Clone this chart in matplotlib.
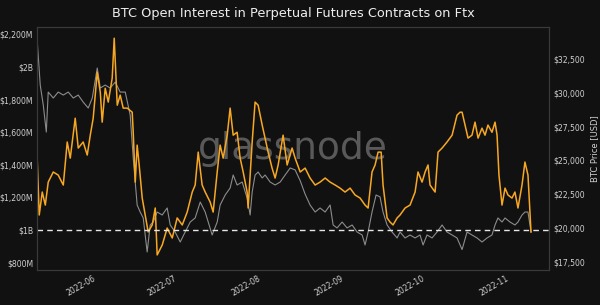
import pandas as pd
import matplotlib
matplotlib.use("Agg")
import matplotlib.pyplot as plt
import matplotlib.dates as mdates
from matplotlib.ticker import FuncFormatter

## DATA

# open interest, million USD
oi_time = [
    "2022-05-09 19:00", "2022-05-10 12:00", "2022-05-11 15:00", "2022-05-12 18:00", "2022-05-13 20:00",
    "2022-05-15 17:00", "2022-05-17 13:00", "2022-05-19 10:00", "2022-05-20 21:00", "2022-05-22 00:00",
    "2022-05-23 20:00", "2022-05-24 23:00", "2022-05-26 19:00", "2022-05-28 07:00", "2022-05-29 10:00",
    "2022-05-30 12:00", "2022-06-01 00:00", "2022-06-02 03:00", "2022-06-02 20:00", "2022-06-03 23:00",
    "2022-06-05 02:00", "2022-06-06 13:00", "2022-06-07 07:00", "2022-06-08 10:00", "2022-06-09 12:00",
    "2022-06-10 15:00", "2022-06-12 03:00", "2022-06-13 23:00", "2022-06-14 08:00", "2022-06-15 02:00",
    "2022-06-15 19:00", "2022-06-16 13:00", "2022-06-17 16:00", "2022-06-18 19:00", "2022-06-19 21:00",
    "2022-06-21 09:00", "2022-06-22 12:00", "2022-06-23 05:00", "2022-06-25 02:00", "2022-06-26 22:00",
    "2022-06-28 19:00", "2022-06-30 15:00", "2022-07-02 12:00", "2022-07-04 08:00", "2022-07-06 05:00",
    "2022-07-07 07:00", "2022-07-08 10:00", "2022-07-09 21:00", "2022-07-11 00:00", "2022-07-12 03:00",
    "2022-07-12 20:00", "2022-07-13 23:00", "2022-07-15 11:00", "2022-07-16 13:00", "2022-07-17 16:00",
    "2022-07-19 04:00", "2022-07-20 06:00", "2022-07-21 09:00", "2022-07-22 20:00", "2022-07-23 23:00",
    "2022-07-25 02:00", "2022-07-26 13:00", "2022-07-26 22:00", "2022-07-28 10:00", "2022-07-29 12:00",
    "2022-07-30 15:00", "2022-08-01 03:00", "2022-08-02 05:00", "2022-08-03 08:00", "2022-08-04 19:00",
    "2022-08-05 22:00", "2022-08-07 01:00", "2022-08-08 21:00", "2022-08-10 09:00", "2022-08-12 05:00",
    "2022-08-13 08:00", "2022-08-15 05:00", "2022-08-17 01:00", "2022-08-18 21:00", "2022-08-20 18:00",
    "2022-08-22 14:00", "2022-08-24 11:00", "2022-08-26 07:00", "2022-08-28 04:00", "2022-08-30 00:00",
    "2022-08-31 20:00", "2022-09-02 17:00", "2022-09-04 13:00", "2022-09-06 10:00", "2022-09-08 06:00",
    "2022-09-09 09:00", "2022-09-10 20:00", "2022-09-11 23:00", "2022-09-13 02:00", "2022-09-14 05:00",
    "2022-09-14 22:00", "2022-09-16 10:00", "2022-09-17 12:00", "2022-09-18 15:00", "2022-09-20 03:00",
    "2022-09-21 05:00", "2022-09-23 02:00", "2022-09-24 22:00", "2022-09-26 19:00", "2022-09-27 21:00",
    "2022-09-29 09:00", "2022-09-30 12:00", "2022-10-01 14:00", "2022-10-02 08:00", "2022-10-04 05:00",
    "2022-10-05 07:00", "2022-10-06 19:00", "2022-10-08 15:00", "2022-10-10 12:00", "2022-10-12 08:00",
    "2022-10-13 11:00", "2022-10-14 05:00", "2022-10-15 07:00", "2022-10-16 10:00", "2022-10-17 21:00",
    "2022-10-19 00:00", "2022-10-20 03:00", "2022-10-21 14:00", "2022-10-22 17:00", "2022-10-23 19:00",
    "2022-10-25 07:00", "2022-10-26 10:00", "2022-10-27 04:00", "2022-10-27 21:00", "2022-10-29 00:00",
    "2022-10-30 03:00", "2022-10-31 05:00", "2022-11-01 17:00", "2022-11-02 19:00", "2022-11-03 22:00",
    "2022-11-05 10:00", "2022-11-06 12:00", "2022-11-07 15:00", "2022-11-08 09:00", "2022-11-08 18:00",
]
oi_value = [
    1417, 1092, 1233, 1153, 1294, 1356, 1337, 1276, 1540, 1441,
    1686, 1503, 1540, 1460, 1582, 1686, 1968, 1846, 1662, 1870,
    1785, 1932, 2177, 1766, 1828, 1748, 1748, 1723, 1600, 1294,
    1521, 1399, 1196, 1092, 988, 1031, 1135, 847, 908, 1012,
    951, 1074, 1031, 1110, 1233, 1276, 1478, 1276, 1233, 1196,
    1172, 1110, 1356, 1521, 1441, 1582, 1748, 1582, 1600, 1441,
    1356, 1233, 1135, 1540, 1785, 1766, 1644, 1564, 1478, 1380,
    1319, 1399, 1582, 1399, 1503, 1441, 1356, 1380, 1319, 1276,
    1294, 1319, 1294, 1276, 1257, 1233, 1257, 1215, 1196, 1153,
    1135, 1356, 1399, 1478, 1478, 1276, 1074, 1049, 1031, 1074,
    1092, 1135, 1153, 1233, 1356, 1294, 1356, 1399, 1276, 1233,
    1478, 1503, 1540, 1582, 1705, 1723, 1723, 1644, 1564, 1582,
    1662, 1564, 1625, 1582, 1644, 1600, 1662, 1582, 1337, 1153,
    1257, 1215, 1196, 1233, 1135, 1276, 1417, 1337, 1110, 988,
]

# BTC price, USD
price_time = [
    "2022-05-09 19:00", "2022-05-10 21:00", "2022-05-12 00:00", "2022-05-13 03:00", "2022-05-13 20:00",
    "2022-05-15 17:00", "2022-05-17 13:00", "2022-05-19 10:00", "2022-05-21 06:00", "2022-05-23 03:00",
    "2022-05-24 23:00", "2022-05-26 19:00", "2022-05-28 16:00", "2022-05-30 04:00", "2022-06-01 00:00",
    "2022-06-02 03:00", "2022-06-03 23:00", "2022-06-05 19:00", "2022-06-07 16:00", "2022-06-09 12:00",
    "2022-06-11 09:00", "2022-06-13 05:00", "2022-06-14 08:00", "2022-06-15 19:00", "2022-06-16 22:00",
    "2022-06-18 01:00", "2022-06-19 12:00", "2022-06-20 15:00", "2022-06-21 18:00", "2022-06-23 05:00",
    "2022-06-25 02:00", "2022-06-26 22:00", "2022-06-28 01:00", "2022-06-29 21:00", "2022-07-01 18:00",
    "2022-07-03 14:00", "2022-07-05 11:00", "2022-07-07 07:00", "2022-07-09 04:00", "2022-07-11 00:00",
    "2022-07-12 03:00", "2022-07-13 14:00", "2022-07-15 11:00", "2022-07-16 13:00", "2022-07-18 10:00",
    "2022-07-20 06:00", "2022-07-21 09:00", "2022-07-22 20:00", "2022-07-24 17:00", "2022-07-26 13:00",
    "2022-07-27 16:00", "2022-07-28 10:00", "2022-07-29 12:00", "2022-07-30 15:00", "2022-08-01 03:00",
    "2022-08-02 05:00", "2022-08-04 02:00", "2022-08-05 22:00", "2022-08-07 19:00", "2022-08-09 15:00",
    "2022-08-11 12:00", "2022-08-13 08:00", "2022-08-15 05:00", "2022-08-17 01:00", "2022-08-18 21:00",
    "2022-08-20 18:00", "2022-08-22 14:00", "2022-08-24 11:00", "2022-08-26 07:00", "2022-08-27 10:00",
    "2022-08-28 21:00", "2022-08-30 18:00", "2022-09-01 14:00", "2022-09-03 11:00", "2022-09-05 07:00",
    "2022-09-07 04:00", "2022-09-08 06:00", "2022-09-09 09:00", "2022-09-10 20:00", "2022-09-12 08:00",
    "2022-09-13 19:00", "2022-09-14 22:00", "2022-09-16 10:00", "2022-09-18 06:00", "2022-09-20 03:00",
    "2022-09-21 05:00", "2022-09-23 02:00", "2022-09-24 22:00", "2022-09-26 19:00", "2022-09-28 15:00",
    "2022-09-29 18:00", "2022-10-01 05:00", "2022-10-03 02:00", "2022-10-04 22:00", "2022-10-06 19:00",
    "2022-10-08 15:00", "2022-10-10 12:00", "2022-10-12 08:00", "2022-10-14 05:00", "2022-10-16 01:00",
    "2022-10-17 21:00", "2022-10-19 18:00", "2022-10-21 14:00", "2022-10-23 11:00", "2022-10-25 07:00",
    "2022-10-26 10:00", "2022-10-27 12:00", "2022-10-29 00:00", "2022-10-30 03:00", "2022-10-31 23:00",
    "2022-11-02 19:00", "2022-11-03 22:00", "2022-11-05 10:00", "2022-11-06 12:00", "2022-11-07 15:00",
    "2022-11-08 18:00",
]
price_value = [
    33760, 30580, 29100, 27100, 30060, 29620, 30060, 29840, 30060, 29620,
    29840, 29320, 28880, 29620, 31840, 30360, 30580, 30360, 30800, 30060,
    30060, 28360, 25180, 21700, 21180, 20740, 18220, 20220, 20440, 21180,
    20960, 21480, 20220, 19700, 18960, 19700, 20440, 20740, 21920, 21180,
    20440, 19480, 20440, 21700, 22440, 22960, 23920, 23180, 23400, 22220,
    20960, 22660, 23920, 24140, 23700, 23920, 23400, 23180, 23400, 23920,
    24440, 24300, 23500, 22500, 21700, 21180, 21480, 21180, 21700, 20220,
    20000, 20440, 20000, 20220, 19700, 19480, 18740, 19700, 21180, 22440,
    22300, 21180, 20220, 19700, 19260, 19700, 19260, 19480, 19260, 19480,
    18740, 19480, 19260, 19700, 20220, 19700, 19480, 19260, 18400, 19700,
    19480, 19260, 18960, 19260, 19480, 20220, 20740, 20440, 20740, 20440,
    20220, 20440, 20960, 21180, 21180, 19700,
]

left_ticks = [800, 1000, 1200, 1400, 1600, 1800, 2000, 2200]
right_ticks = [17500, 20000, 22500, 25000, 27500, 30000, 32500]

## STYLE

bg = "#111111"
txt = "#d0d0d0"
orange = "#f7a823"
grey = "#8c8c8c"

oi_t = pd.to_datetime(oi_time)
pr_t = pd.to_datetime(price_time)

fig = plt.figure(figsize=(6, 3.05), dpi=100, facecolor=bg)
ax = fig.add_axes([0.062, 0.115, 0.853, 0.796])
ax2 = ax.twinx()
ax2.set_facecolor(bg)
ax.set_zorder(ax2.get_zorder() + 1)
ax.patch.set_visible(False)

ax2.plot(pr_t, price_value, color=grey, lw=0.8)
ax.plot(oi_t, oi_value, color=orange, lw=1.1)
ax.axhline(1000, color="#e6e6e6", lw=1.0, ls=(0, (4, 3)))

ax.set_ylim(755, 2245)
ax2.set_ylim(16893, 34867)
ax.set_xlim(pd.Timestamp("2022-05-09 18:00"), pd.Timestamp("2022-11-15 10:00"))

def left_fmt(v, pos):
    if v % 1000 == 0:
        return f"${v/1000:.0f}B"
    return f"${v:,.0f}M"

ax.set_yticks(left_ticks)
ax.yaxis.set_major_formatter(FuncFormatter(left_fmt))
ax2.set_yticks(right_ticks)
ax2.yaxis.set_major_formatter(FuncFormatter(lambda v, p: f"${v:,.0f}"))

ax.xaxis.set_major_locator(mdates.MonthLocator())
ax.xaxis.set_major_formatter(mdates.DateFormatter("%Y-%m"))
for lab in ax.get_xticklabels():
    lab.set_rotation(30)
    lab.set_ha("right")

for a in (ax, ax2):
    a.tick_params(colors=txt, labelsize=5.6, length=0, pad=3)
    for s in a.spines.values():
        s.set_color("#3a3a3a")
        s.set_linewidth(0.8)

ax2.set_ylabel("BTC Price [USD]", color=txt, fontsize=6, labelpad=4)
ax.set_title("BTC Open Interest in Perpetual Futures Contracts on Ftx", color="#eeeeee", fontsize=9.3, pad=7)

# watermark
ax.text(0.5, 0.5, "glassnode", transform=ax.transAxes, ha="center", va="center",
        fontsize=27, color="#8a8a8a", alpha=0.6, zorder=0)

plt.savefig("out.png", dpi=100, facecolor=bg)
